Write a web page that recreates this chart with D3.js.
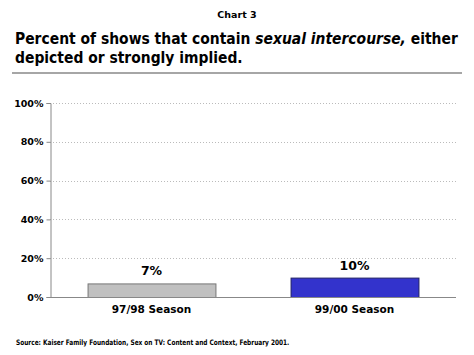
<!DOCTYPE html>
<html><head><meta charset="utf-8">
<script src="https://cdn.jsdelivr.net/npm/d3@7"></script>
<style>body{margin:0;background:#fff;} svg{display:block;} text{font-family:"DejaVu Sans",Verdana,sans-serif;font-weight:bold;}</style>
</head><body>
<svg id="c" width="474" height="355"></svg>
<script>
const categories = ["97/98 Season", "99/00 Season"];
const values = [7, 10];
const valueLabels = ["7%", "10%"];
const colors = ["#C0C0C0", "#3333CC"];
const yTicks = [0, 20, 40, 60, 80, 100];

(function () {
const FONT = "'DejaVu Sans',Verdana,sans-serif";
const svg = d3.select("#c");
const mLeft = 50, mRight = 456, mTop = 103, mBottom = 297;

function squeezed(x0, y0, size, target, build) {
  const g = svg.append("g");
  const t = g.append("text").attr("x", 0).attr("y", 0).attr("font-size", size);
  build(t);
  const w = t.node().getComputedTextLength();
  const sx = Math.min(1, target / w);
  g.attr("transform", `translate(${x0},${y0}) scale(${sx},1)`);
  return sx;
}

svg.append("text").attr("x", 237).attr("y", 18).attr("text-anchor", "middle")
  .attr("font-size", 9.5).text("Chart 3");

const sx1 = squeezed(15, 44, 16.5, 443, t => {
  t.append("tspan").text("Percent of shows that contain ");
  t.append("tspan").attr("font-style", "italic").text("sexual intercourse,");
  t.append("tspan").text(" either");
});
svg.append("g").attr("transform", `translate(15,63) scale(${sx1},1)`)
  .append("text").attr("font-size", 16.5).text("depicted or strongly implied.");

svg.append("line").attr("x1", 12).attr("x2", 462).attr("y1", 73).attr("y2", 73)
  .attr("stroke", "#888").attr("stroke-width", 1.5);

const x = d3.scaleBand().domain(categories).range([mLeft, mRight]).paddingInner(0.37).paddingOuter(0.185);
const y = d3.scaleLinear().domain([0, 100]).range([mBottom, mTop]);

svg.append("g").selectAll("line").data(yTicks.filter(d => d > 0)).join("line")
  .attr("x1", mLeft).attr("x2", mRight).attr("y1", d => Math.round(y(d)) + 0.5).attr("y2", d => Math.round(y(d)) + 0.5)
  .attr("stroke", "#bbb").attr("stroke-dasharray", "1,2");

const yAxis = d3.axisLeft(y).tickValues(yTicks).tickFormat(d => d + "%").tickSize(4).tickPadding(3);
const ga = svg.append("g").attr("transform", `translate(${mLeft + 0.5},0)`).call(yAxis);
ga.select(".domain").attr("stroke", "#888");
ga.selectAll(".tick line").attr("stroke", "#888");
ga.selectAll(".tick text").attr("font-size", 9.5).attr("fill", "#000")
  .style("font-family", FONT).style("font-weight", "bold");

svg.append("g").selectAll("rect").data(values).join("rect")
  .attr("x", (d, i) => x(categories[i]) + 0.5).attr("y", d => y(d) + 0.5)
  .attr("width", x.bandwidth()).attr("height", d => mBottom - y(d))
  .attr("fill", (d, i) => colors[i]).attr("stroke", (d, i) => i === 0 ? "#777" : "#222266").attr("stroke-width", 1);

svg.append("line").attr("x1", mLeft).attr("x2", mRight).attr("y1", mBottom + 0.5).attr("y2", mBottom + 0.5)
  .attr("stroke", "#888").attr("stroke-width", 1.2);

svg.append("g").selectAll("text").data(values).join("text")
  .attr("x", (d, i) => x(categories[i]) + x.bandwidth() / 2).attr("y", d => y(d) - 8)
  .attr("text-anchor", "middle").attr("font-size", 12.5).text((d, i) => valueLabels[i]);

const xAxis = d3.axisBottom(x).tickSize(0).tickPadding(9);
const gx = svg.append("g").attr("transform", `translate(0,${mBottom})`).call(xAxis);
gx.select(".domain").remove();
gx.selectAll(".tick text").attr("font-size", 10.5).attr("fill", "#000")
  .style("font-family", FONT).style("font-weight", "bold");

squeezed(16, 345, 7.5, 274, t => t.text("Source: Kaiser Family Foundation, Sex on TV: Content and Context, February 2001."));
})();
</script>
</body></html>
